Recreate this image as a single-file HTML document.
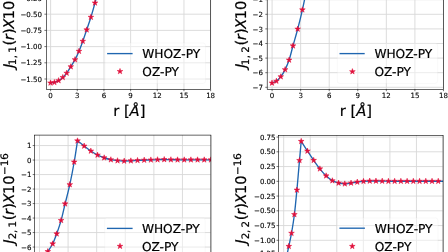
<!DOCTYPE html>
<html><head><meta charset="utf-8"><title>plot</title>
<style>html,body{margin:0;padding:0;background:#fff}svg{display:block}text{font-family:"DejaVu Sans","Liberation Sans",sans-serif;fill:#000;stroke:#000;stroke-width:0.2px;text-rendering:geometricPrecision}.t text{stroke-width:0.12px}</style>
</head><body>
<svg width="448" height="252" viewBox="0 0 448 252">
<rect width="448" height="252" fill="#fff"/>
<clipPath id="cA"><rect x="46.3" y="-40.5" width="164.3" height="129.8"/></clipPath>
<path d="M50.60,-40.5V89.3M77.27,-40.5V89.3M103.94,-40.5V89.3M130.61,-40.5V89.3M157.28,-40.5V89.3M183.95,-40.5V89.3M210.62,-40.5V89.3M46.3,-2.00H210.6M46.3,14.20H210.6M46.3,30.40H210.6M46.3,46.60H210.6M46.3,62.80H210.6M46.3,79.00H210.6" stroke="#d8d8d8" stroke-width="0.9" fill="none"/>
<g clip-path="url(#cA)"><path d="M50.50,82.90C51.15,82.82 53.05,82.78 54.40,82.40C55.75,82.02 57.20,81.43 58.60,80.60C60.00,79.77 61.45,78.65 62.80,77.40C64.15,76.15 65.37,74.88 66.70,73.10C68.03,71.32 69.42,68.95 70.80,66.70C72.18,64.45 73.63,62.18 75.00,59.60C76.37,57.02 77.70,54.27 79.00,51.20C80.30,48.13 81.52,44.77 82.80,41.20C84.08,37.63 85.35,33.80 86.70,29.80C88.05,25.80 89.52,21.68 90.90,17.20C92.28,12.72 93.72,7.77 95.00,2.90C96.28,-1.97 98.00,-9.52 98.60,-12.00" stroke="#1f66b0" stroke-width="1.35" fill="none" stroke-linejoin="round"/>
<g fill="#e00f3a" stroke="#e00f3a" stroke-width="0.5" stroke-linejoin="miter"><polygon points="50.50,79.90 51.17,81.97 53.35,81.97 51.59,83.25 52.26,85.33 50.50,84.05 48.74,85.33 49.41,83.25 47.65,81.97 49.83,81.97"/><polygon points="54.40,79.40 55.07,81.47 57.25,81.47 55.49,82.75 56.16,84.83 54.40,83.55 52.64,84.83 53.31,82.75 51.55,81.47 53.73,81.47"/><polygon points="58.60,77.60 59.27,79.67 61.45,79.67 59.69,80.95 60.36,83.03 58.60,81.75 56.84,83.03 57.51,80.95 55.75,79.67 57.93,79.67"/><polygon points="62.80,74.40 63.47,76.47 65.65,76.47 63.89,77.75 64.56,79.83 62.80,78.55 61.04,79.83 61.71,77.75 59.95,76.47 62.13,76.47"/><polygon points="66.70,70.10 67.37,72.17 69.55,72.17 67.79,73.45 68.46,75.53 66.70,74.25 64.94,75.53 65.61,73.45 63.85,72.17 66.03,72.17"/><polygon points="70.80,63.70 71.47,65.77 73.65,65.77 71.89,67.05 72.56,69.13 70.80,67.85 69.04,69.13 69.71,67.05 67.95,65.77 70.13,65.77"/><polygon points="75.00,56.60 75.67,58.67 77.85,58.67 76.09,59.95 76.76,62.03 75.00,60.75 73.24,62.03 73.91,59.95 72.15,58.67 74.33,58.67"/><polygon points="79.00,48.20 79.67,50.27 81.85,50.27 80.09,51.55 80.76,53.63 79.00,52.35 77.24,53.63 77.91,51.55 76.15,50.27 78.33,50.27"/><polygon points="82.80,38.20 83.47,40.27 85.65,40.27 83.89,41.55 84.56,43.63 82.80,42.35 81.04,43.63 81.71,41.55 79.95,40.27 82.13,40.27"/><polygon points="86.70,26.80 87.37,28.87 89.55,28.87 87.79,30.15 88.46,32.23 86.70,30.95 84.94,32.23 85.61,30.15 83.85,28.87 86.03,28.87"/><polygon points="90.90,14.20 91.57,16.27 93.75,16.27 91.99,17.55 92.66,19.63 90.90,18.35 89.14,19.63 89.81,17.55 88.05,16.27 90.23,16.27"/><polygon points="95.00,-0.10 95.67,1.97 97.85,1.97 96.09,3.25 96.76,5.33 95.00,4.05 93.24,5.33 93.91,3.25 92.15,1.97 94.33,1.97"/><polygon points="98.60,-15.00 99.27,-12.93 101.45,-12.93 99.69,-11.65 100.36,-9.57 98.60,-10.85 96.84,-9.57 97.51,-11.65 95.75,-12.93 97.93,-12.93"/></g></g>
<rect x="46.3" y="-40.5" width="164.3" height="129.8" fill="none" stroke="#000" stroke-width="0.6"/>
<path d="M50.60,89.3v1.9M77.27,89.3v1.9M103.94,89.3v1.9M130.61,89.3v1.9M157.28,89.3v1.9M183.95,89.3v1.9M210.62,89.3v1.9M46.3,-2.00h-1.9M46.3,14.20h-1.9M46.3,30.40h-1.9M46.3,46.60h-1.9M46.3,62.80h-1.9M46.3,79.00h-1.9" stroke="#000" stroke-width="0.55" fill="none"/>
<g class="t" font-size="7.05">
<text x="50.60" y="98.40" text-anchor="middle">0</text>
<text x="77.27" y="98.40" text-anchor="middle">3</text>
<text x="103.94" y="98.40" text-anchor="middle">6</text>
<text x="130.61" y="98.40" text-anchor="middle">9</text>
<text x="157.28" y="98.40" text-anchor="middle">12</text>
<text x="183.95" y="98.40" text-anchor="middle">15</text>
<text x="210.62" y="98.40" text-anchor="middle">18</text>
<text x="42.00" y="0.65" text-anchor="end">−0.25</text>
<text x="42.00" y="16.85" text-anchor="end">−0.50</text>
<text x="42.00" y="33.05" text-anchor="end">−0.75</text>
<text x="42.00" y="49.25" text-anchor="end">−1.00</text>
<text x="42.00" y="65.45" text-anchor="end">−1.25</text>
<text x="42.00" y="81.65" text-anchor="end">−1.50</text>
</g>
<rect x="104.90" y="43.00" width="100.60" height="40.40" rx="2.4" fill="#fff" fill-opacity="0.45" stroke="#ddd" stroke-opacity="0.35" stroke-width="0.5"/>
<path d="M107.1,53.6H132.6" stroke="#1f66b0" stroke-width="1.35"/>
<g fill="#e00f3a" stroke="#e00f3a" stroke-width="0.5"><polygon points="120.00,68.40 120.67,70.47 122.85,70.47 121.09,71.75 121.76,73.83 120.00,72.55 118.24,73.83 118.91,71.75 117.15,70.47 119.33,70.47"/></g>
<text x="142.3" y="57.8" font-size="12.2">WHOZ-PY</text>
<text x="142.3" y="76.1" font-size="12.2">OZ-PY</text>
<text transform="translate(13.6,67.9) rotate(-90)" font-size="14.7"><tspan font-style="oblique" dx="0" dy="0">J</tspan><tspan font-size="10.29" dx="-1.65" dy="2.6">1</tspan><tspan font-size="10.29" dx="0.45" dy="0">,</tspan><tspan font-size="10.29" dx="2.15" dy="0">1</tspan><tspan  dx="0.75" dy="-2.6">(</tspan><tspan font-style="oblique" dx="-0.5" dy="0">r</tspan><tspan  dx="0.1" dy="0">)</tspan><tspan font-style="oblique" dx="-0.5" dy="0">X</tspan><tspan  dx="-0.4" dy="0">1</tspan><tspan  dx="-0.2" dy="0">0</tspan><tspan font-size="10.29" dx="0.5" dy="-5.4">−</tspan><tspan font-size="10.29" dx="0" dy="0">1</tspan><tspan font-size="10.29" dx="0" dy="0">6</tspan></text>
<text x="129.3" y="115.7" font-size="14.7" text-anchor="middle">r [<tspan font-style="oblique">Å</tspan>]</text>
<clipPath id="cB"><rect x="267.2" y="-40.5" width="176.2" height="129.8"/></clipPath>
<path d="M272.10,-40.5V89.3M300.66,-40.5V89.3M329.22,-40.5V89.3M357.78,-40.5V89.3M386.34,-40.5V89.3M414.90,-40.5V89.3M443.46,-40.5V89.3M267.2,-0.30H443.4M267.2,14.30H443.4M267.2,28.90H443.4M267.2,43.50H443.4M267.2,58.10H443.4M267.2,72.70H443.4M267.2,87.30H443.4" stroke="#d8d8d8" stroke-width="0.9" fill="none"/>
<g clip-path="url(#cB)"><path d="M272.00,83.00C272.73,82.68 274.93,82.15 276.40,81.10C277.87,80.05 279.35,78.62 280.80,76.70C282.25,74.78 283.72,72.38 285.10,69.60C286.48,66.82 287.78,63.97 289.10,60.00C290.42,56.03 291.57,50.97 293.00,45.80C294.43,40.63 296.13,35.00 297.70,29.00C299.27,23.00 300.93,16.30 302.40,9.80C303.87,3.30 305.82,-6.70 306.50,-10.00" stroke="#1f66b0" stroke-width="1.35" fill="none" stroke-linejoin="round"/>
<g fill="#e00f3a" stroke="#e00f3a" stroke-width="0.5" stroke-linejoin="miter"><polygon points="272.00,80.00 272.67,82.07 274.85,82.07 273.09,83.35 273.76,85.43 272.00,84.15 270.24,85.43 270.91,83.35 269.15,82.07 271.33,82.07"/><polygon points="276.40,78.10 277.07,80.17 279.25,80.17 277.49,81.45 278.16,83.53 276.40,82.25 274.64,83.53 275.31,81.45 273.55,80.17 275.73,80.17"/><polygon points="280.80,73.70 281.47,75.77 283.65,75.77 281.89,77.05 282.56,79.13 280.80,77.85 279.04,79.13 279.71,77.05 277.95,75.77 280.13,75.77"/><polygon points="285.10,66.60 285.77,68.67 287.95,68.67 286.19,69.95 286.86,72.03 285.10,70.75 283.34,72.03 284.01,69.95 282.25,68.67 284.43,68.67"/><polygon points="289.10,57.00 289.77,59.07 291.95,59.07 290.19,60.35 290.86,62.43 289.10,61.15 287.34,62.43 288.01,60.35 286.25,59.07 288.43,59.07"/><polygon points="293.00,42.80 293.67,44.87 295.85,44.87 294.09,46.15 294.76,48.23 293.00,46.95 291.24,48.23 291.91,46.15 290.15,44.87 292.33,44.87"/><polygon points="297.70,26.00 298.37,28.07 300.55,28.07 298.79,29.35 299.46,31.43 297.70,30.15 295.94,31.43 296.61,29.35 294.85,28.07 297.03,28.07"/><polygon points="302.40,6.80 303.07,8.87 305.25,8.87 303.49,10.15 304.16,12.23 302.40,10.95 300.64,12.23 301.31,10.15 299.55,8.87 301.73,8.87"/><polygon points="306.50,-13.00 307.17,-10.93 309.35,-10.93 307.59,-9.65 308.26,-7.57 306.50,-8.85 304.74,-7.57 305.41,-9.65 303.65,-10.93 305.83,-10.93"/></g></g>
<rect x="267.2" y="-40.5" width="176.2" height="129.8" fill="none" stroke="#000" stroke-width="0.6"/>
<path d="M272.10,89.3v1.9M300.66,89.3v1.9M329.22,89.3v1.9M357.78,89.3v1.9M386.34,89.3v1.9M414.90,89.3v1.9M443.46,89.3v1.9M267.2,-0.30h-1.9M267.2,14.30h-1.9M267.2,28.90h-1.9M267.2,43.50h-1.9M267.2,58.10h-1.9M267.2,72.70h-1.9M267.2,87.30h-1.9" stroke="#000" stroke-width="0.55" fill="none"/>
<g class="t" font-size="7.05">
<text x="272.10" y="98.40" text-anchor="middle">0</text>
<text x="300.66" y="98.40" text-anchor="middle">3</text>
<text x="329.22" y="98.40" text-anchor="middle">6</text>
<text x="357.78" y="98.40" text-anchor="middle">9</text>
<text x="386.34" y="98.40" text-anchor="middle">12</text>
<text x="414.90" y="98.40" text-anchor="middle">15</text>
<text x="443.46" y="98.40" text-anchor="middle">18</text>
<text x="262.90" y="2.35" text-anchor="end">−1</text>
<text x="262.90" y="16.95" text-anchor="end">−2</text>
<text x="262.90" y="31.55" text-anchor="end">−3</text>
<text x="262.90" y="46.15" text-anchor="end">−4</text>
<text x="262.90" y="60.75" text-anchor="end">−5</text>
<text x="262.90" y="75.35" text-anchor="end">−6</text>
<text x="262.90" y="89.95" text-anchor="end">−7</text>
</g>
<rect x="337.30" y="43.20" width="100.30" height="40.20" rx="2.4" fill="#fff" fill-opacity="0.45" stroke="#ddd" stroke-opacity="0.35" stroke-width="0.5"/>
<path d="M339.5,53.6H364.7" stroke="#1f66b0" stroke-width="1.35"/>
<g fill="#e00f3a" stroke="#e00f3a" stroke-width="0.5"><polygon points="352.40,68.60 353.07,70.67 355.25,70.67 353.49,71.95 354.16,74.03 352.40,72.75 350.64,74.03 351.31,71.95 349.55,70.67 351.73,70.67"/></g>
<text x="374.4" y="58.0" font-size="12.2">WHOZ-PY</text>
<text x="374.4" y="76.1" font-size="12.2">OZ-PY</text>
<text transform="translate(246.3,67.9) rotate(-90)" font-size="14.7"><tspan font-style="oblique" dx="0" dy="0">J</tspan><tspan font-size="10.29" dx="-1.65" dy="2.6">1</tspan><tspan font-size="10.29" dx="0.45" dy="0">,</tspan><tspan font-size="10.29" dx="2.15" dy="0">2</tspan><tspan  dx="0.75" dy="-2.6">(</tspan><tspan font-style="oblique" dx="-0.5" dy="0">r</tspan><tspan  dx="0.1" dy="0">)</tspan><tspan font-style="oblique" dx="-0.5" dy="0">X</tspan><tspan  dx="-0.4" dy="0">1</tspan><tspan  dx="-0.2" dy="0">0</tspan><tspan font-size="10.29" dx="0.5" dy="-5.4">−</tspan><tspan font-size="10.29" dx="0" dy="0">1</tspan><tspan font-size="10.29" dx="0" dy="0">6</tspan></text>
<text x="355.9" y="115.7" font-size="14.7" text-anchor="middle">r [<tspan font-style="oblique">Å</tspan>]</text>
<clipPath id="cC"><rect x="34.6" y="135.1" width="176.3" height="129.4"/></clipPath>
<path d="M39.50,135.1V264.5M68.09,135.1V264.5M96.68,135.1V264.5M125.27,135.1V264.5M153.86,135.1V264.5M182.45,135.1V264.5M211.04,135.1V264.5M34.6,145.55H210.9M34.6,160.05H210.9M34.6,174.55H210.9M34.6,189.05H210.9M34.6,203.55H210.9M34.6,218.05H210.9M34.6,232.55H210.9M34.6,247.05H210.9M34.6,261.55H210.9" stroke="#d8d8d8" stroke-width="0.9" fill="none"/>
<g clip-path="url(#cC)"><path d="M43.50,258.00C44.22,256.92 46.27,253.87 47.80,251.50C49.33,249.13 51.22,246.75 52.70,243.80C54.18,240.85 55.30,237.70 56.70,233.80C58.10,229.90 59.70,225.40 61.10,220.40C62.50,215.40 63.65,209.77 65.10,203.80C66.55,197.83 68.28,191.57 69.80,184.60C71.32,177.63 72.92,169.30 74.20,162.00C75.48,154.70 76.95,144.33 77.50,140.80L77.50,140.80C78.61,141.67 81.95,144.30 84.17,146.00C86.39,147.70 88.62,149.50 90.84,151.00C93.06,152.50 95.29,153.88 97.51,155.00C99.73,156.12 101.96,156.97 104.18,157.75C106.40,158.53 108.63,159.21 110.85,159.70C113.07,160.19 115.30,160.48 117.52,160.70C119.74,160.92 121.97,160.98 124.19,161.00C126.41,161.02 128.64,160.90 130.86,160.80C133.08,160.70 135.31,160.52 137.53,160.40C139.75,160.28 141.98,160.18 144.20,160.10C146.42,160.02 148.65,159.97 150.87,159.90C153.09,159.83 155.32,159.77 157.54,159.70C159.76,159.63 161.99,159.50 164.21,159.50C166.43,159.50 168.66,159.65 170.88,159.70C173.10,159.75 175.33,159.78 177.55,159.80C179.77,159.82 182.00,159.80 184.22,159.80C186.44,159.80 188.67,159.80 190.89,159.80C193.11,159.80 195.34,159.80 197.56,159.80C199.78,159.80 202.01,159.80 204.23,159.80C206.45,159.80 209.79,159.80 210.90,159.80" stroke="#1f66b0" stroke-width="1.35" fill="none" stroke-linejoin="round"/>
<g fill="#e00f3a" stroke="#e00f3a" stroke-width="0.5" stroke-linejoin="miter"><polygon points="43.50,255.00 44.17,257.07 46.35,257.07 44.59,258.35 45.26,260.43 43.50,259.15 41.74,260.43 42.41,258.35 40.65,257.07 42.83,257.07"/><polygon points="47.80,248.50 48.47,250.57 50.65,250.57 48.89,251.85 49.56,253.93 47.80,252.65 46.04,253.93 46.71,251.85 44.95,250.57 47.13,250.57"/><polygon points="52.70,240.80 53.37,242.87 55.55,242.87 53.79,244.15 54.46,246.23 52.70,244.95 50.94,246.23 51.61,244.15 49.85,242.87 52.03,242.87"/><polygon points="56.70,230.80 57.37,232.87 59.55,232.87 57.79,234.15 58.46,236.23 56.70,234.95 54.94,236.23 55.61,234.15 53.85,232.87 56.03,232.87"/><polygon points="61.10,217.40 61.77,219.47 63.95,219.47 62.19,220.75 62.86,222.83 61.10,221.55 59.34,222.83 60.01,220.75 58.25,219.47 60.43,219.47"/><polygon points="65.10,200.80 65.77,202.87 67.95,202.87 66.19,204.15 66.86,206.23 65.10,204.95 63.34,206.23 64.01,204.15 62.25,202.87 64.43,202.87"/><polygon points="69.80,181.60 70.47,183.67 72.65,183.67 70.89,184.95 71.56,187.03 69.80,185.75 68.04,187.03 68.71,184.95 66.95,183.67 69.13,183.67"/><polygon points="74.20,159.00 74.87,161.07 77.05,161.07 75.29,162.35 75.96,164.43 74.20,163.15 72.44,164.43 73.11,162.35 71.35,161.07 73.53,161.07"/><polygon points="77.50,137.80 78.17,139.87 80.35,139.87 78.59,141.15 79.26,143.23 77.50,141.95 75.74,143.23 76.41,141.15 74.65,139.87 76.83,139.87"/><polygon points="84.17,143.00 84.84,145.07 87.02,145.07 85.26,146.35 85.93,148.43 84.17,147.15 82.41,148.43 83.08,146.35 81.32,145.07 83.50,145.07"/><polygon points="90.84,148.00 91.51,150.07 93.69,150.07 91.93,151.35 92.60,153.43 90.84,152.15 89.08,153.43 89.75,151.35 87.99,150.07 90.17,150.07"/><polygon points="97.51,152.00 98.18,154.07 100.36,154.07 98.60,155.35 99.27,157.43 97.51,156.15 95.75,157.43 96.42,155.35 94.66,154.07 96.84,154.07"/><polygon points="104.18,154.75 104.85,156.82 107.03,156.82 105.27,158.10 105.94,160.18 104.18,158.90 102.42,160.18 103.09,158.10 101.33,156.82 103.51,156.82"/><polygon points="110.85,156.70 111.52,158.77 113.70,158.77 111.94,160.05 112.61,162.13 110.85,160.85 109.09,162.13 109.76,160.05 108.00,158.77 110.18,158.77"/><polygon points="117.52,157.70 118.19,159.77 120.37,159.77 118.61,161.05 119.28,163.13 117.52,161.85 115.76,163.13 116.43,161.05 114.67,159.77 116.85,159.77"/><polygon points="124.19,158.00 124.86,160.07 127.04,160.07 125.28,161.35 125.95,163.43 124.19,162.15 122.43,163.43 123.10,161.35 121.34,160.07 123.52,160.07"/><polygon points="130.86,157.80 131.53,159.87 133.71,159.87 131.95,161.15 132.62,163.23 130.86,161.95 129.10,163.23 129.77,161.15 128.01,159.87 130.19,159.87"/><polygon points="137.53,157.40 138.20,159.47 140.38,159.47 138.62,160.75 139.29,162.83 137.53,161.55 135.77,162.83 136.44,160.75 134.68,159.47 136.86,159.47"/><polygon points="144.20,157.10 144.87,159.17 147.05,159.17 145.29,160.45 145.96,162.53 144.20,161.25 142.44,162.53 143.11,160.45 141.35,159.17 143.53,159.17"/><polygon points="150.87,156.90 151.54,158.97 153.72,158.97 151.96,160.25 152.63,162.33 150.87,161.05 149.11,162.33 149.78,160.25 148.02,158.97 150.20,158.97"/><polygon points="157.54,156.70 158.21,158.77 160.39,158.77 158.63,160.05 159.30,162.13 157.54,160.85 155.78,162.13 156.45,160.05 154.69,158.77 156.87,158.77"/><polygon points="164.21,156.50 164.88,158.57 167.06,158.57 165.30,159.85 165.97,161.93 164.21,160.65 162.45,161.93 163.12,159.85 161.36,158.57 163.54,158.57"/><polygon points="170.88,156.70 171.55,158.77 173.73,158.77 171.97,160.05 172.64,162.13 170.88,160.85 169.12,162.13 169.79,160.05 168.03,158.77 170.21,158.77"/><polygon points="177.55,156.80 178.22,158.87 180.40,158.87 178.64,160.15 179.31,162.23 177.55,160.95 175.79,162.23 176.46,160.15 174.70,158.87 176.88,158.87"/><polygon points="184.22,156.80 184.89,158.87 187.07,158.87 185.31,160.15 185.98,162.23 184.22,160.95 182.46,162.23 183.13,160.15 181.37,158.87 183.55,158.87"/><polygon points="190.89,156.80 191.56,158.87 193.74,158.87 191.98,160.15 192.65,162.23 190.89,160.95 189.13,162.23 189.80,160.15 188.04,158.87 190.22,158.87"/><polygon points="197.56,156.80 198.23,158.87 200.41,158.87 198.65,160.15 199.32,162.23 197.56,160.95 195.80,162.23 196.47,160.15 194.71,158.87 196.89,158.87"/><polygon points="204.23,156.80 204.90,158.87 207.08,158.87 205.32,160.15 205.99,162.23 204.23,160.95 202.47,162.23 203.14,160.15 201.38,158.87 203.56,158.87"/><polygon points="210.90,156.80 211.57,158.87 213.75,158.87 211.99,160.15 212.66,162.23 210.90,160.95 209.14,162.23 209.81,160.15 208.05,158.87 210.23,158.87"/></g></g>
<rect x="34.6" y="135.1" width="176.3" height="129.4" fill="none" stroke="#000" stroke-width="0.6"/>
<path d="M39.50,264.5v1.9M68.09,264.5v1.9M96.68,264.5v1.9M125.27,264.5v1.9M153.86,264.5v1.9M182.45,264.5v1.9M211.04,264.5v1.9M34.6,145.55h-1.9M34.6,160.05h-1.9M34.6,174.55h-1.9M34.6,189.05h-1.9M34.6,203.55h-1.9M34.6,218.05h-1.9M34.6,232.55h-1.9M34.6,247.05h-1.9M34.6,261.55h-1.9" stroke="#000" stroke-width="0.55" fill="none"/>
<g class="t" font-size="7.05">
<text x="39.50" y="273.60" text-anchor="middle">0</text>
<text x="68.09" y="273.60" text-anchor="middle">3</text>
<text x="96.68" y="273.60" text-anchor="middle">6</text>
<text x="125.27" y="273.60" text-anchor="middle">9</text>
<text x="153.86" y="273.60" text-anchor="middle">12</text>
<text x="182.45" y="273.60" text-anchor="middle">15</text>
<text x="211.04" y="273.60" text-anchor="middle">18</text>
<text x="31.50" y="148.20" text-anchor="end">1</text>
<text x="31.50" y="162.70" text-anchor="end">0</text>
<text x="31.50" y="177.20" text-anchor="end">−1</text>
<text x="31.50" y="191.70" text-anchor="end">−2</text>
<text x="31.50" y="206.20" text-anchor="end">−3</text>
<text x="31.50" y="220.70" text-anchor="end">−4</text>
<text x="31.50" y="235.20" text-anchor="end">−5</text>
<text x="31.50" y="249.70" text-anchor="end">−6</text>
<text x="31.50" y="264.20" text-anchor="end">−7</text>
</g>
<rect x="104.70" y="217.80" width="100.40" height="40.20" rx="2.4" fill="#fff" fill-opacity="0.45" stroke="#ddd" stroke-opacity="0.35" stroke-width="0.5"/>
<path d="M106.9,228.4H132.6" stroke="#1f66b0" stroke-width="1.35"/>
<g fill="#e00f3a" stroke="#e00f3a" stroke-width="0.5"><polygon points="120.00,243.20 120.67,245.27 122.85,245.27 121.09,246.55 121.76,248.63 120.00,247.35 118.24,248.63 118.91,246.55 117.15,245.27 119.33,245.27"/></g>
<text x="141.9" y="232.6" font-size="12.2">WHOZ-PY</text>
<text x="141.9" y="250.7" font-size="12.2">OZ-PY</text>
<text transform="translate(13.6,243.79999999999998) rotate(-90)" font-size="14.7"><tspan font-style="oblique" dx="0" dy="0">J</tspan><tspan font-size="10.29" dx="0.15000000000000013" dy="2.6">2</tspan><tspan font-size="10.29" dx="-0.14999999999999997" dy="0">,</tspan><tspan font-size="10.29" dx="2.15" dy="0">1</tspan><tspan  dx="0.75" dy="-2.6">(</tspan><tspan font-style="oblique" dx="-0.5" dy="0">r</tspan><tspan  dx="0.1" dy="0">)</tspan><tspan font-style="oblique" dx="-0.5" dy="0">X</tspan><tspan  dx="-0.4" dy="0">1</tspan><tspan  dx="-0.2" dy="0">0</tspan><tspan font-size="10.29" dx="0.5" dy="-5.4">−</tspan><tspan font-size="10.29" dx="0" dy="0">1</tspan><tspan font-size="10.29" dx="0" dy="0">6</tspan></text>
<clipPath id="cD"><rect x="278.4" y="135.3" width="164.70000000000005" height="129.2"/></clipPath>
<path d="M283.70,135.3V264.5M310.25,135.3V264.5M336.80,135.3V264.5M363.35,135.3V264.5M389.90,135.3V264.5M416.45,135.3V264.5M443.00,135.3V264.5M278.4,137.05H443.1M278.4,151.80H443.1M278.4,166.55H443.1M278.4,181.30H443.1M278.4,196.05H443.1M278.4,210.80H443.1M278.4,225.55H443.1M278.4,240.30H443.1M278.4,255.05H443.1" stroke="#d8d8d8" stroke-width="0.9" fill="none"/>
<g clip-path="url(#cD)"><path d="M286.60,256.50C286.97,254.80 287.98,250.18 288.80,246.30C289.62,242.42 290.57,238.50 291.50,233.20C292.43,227.90 293.50,221.70 294.40,214.50C295.30,207.30 296.05,199.02 296.90,190.00C297.75,180.98 298.78,168.52 299.50,160.40C300.22,152.28 300.92,144.48 301.20,141.30L301.20,141.30C302.24,142.92 305.35,147.83 307.43,151.00C309.51,154.17 311.58,157.33 313.66,160.30C315.74,163.27 317.81,166.22 319.89,168.80C321.97,171.38 324.04,173.82 326.12,175.80C328.20,177.78 330.27,179.50 332.35,180.70C334.43,181.90 336.50,182.48 338.58,183.00C340.66,183.52 342.73,183.80 344.81,183.80C346.89,183.80 348.96,183.30 351.04,183.00C353.12,182.70 355.19,182.28 357.27,182.00C359.35,181.72 361.42,181.47 363.50,181.30C365.58,181.13 367.65,181.05 369.73,181.00C371.81,180.95 373.88,180.98 375.96,181.00C378.04,181.02 380.11,181.07 382.19,181.10C384.27,181.13 386.34,181.18 388.42,181.20C390.50,181.22 392.57,181.20 394.65,181.20C396.73,181.20 398.80,181.20 400.88,181.20C402.96,181.20 405.03,181.20 407.11,181.20C409.19,181.20 411.26,181.20 413.34,181.20C415.42,181.20 417.49,181.20 419.57,181.20C421.65,181.20 423.72,181.20 425.80,181.20C427.88,181.20 429.95,181.20 432.03,181.20C434.11,181.20 436.41,181.20 438.26,181.20C440.11,181.20 442.29,181.20 443.10,181.20" stroke="#1f66b0" stroke-width="1.35" fill="none" stroke-linejoin="round"/>
<g fill="#e00f3a" stroke="#e00f3a" stroke-width="0.5" stroke-linejoin="miter"><polygon points="286.60,253.50 287.27,255.57 289.45,255.57 287.69,256.85 288.36,258.93 286.60,257.65 284.84,258.93 285.51,256.85 283.75,255.57 285.93,255.57"/><polygon points="288.80,243.30 289.47,245.37 291.65,245.37 289.89,246.65 290.56,248.73 288.80,247.45 287.04,248.73 287.71,246.65 285.95,245.37 288.13,245.37"/><polygon points="291.50,230.20 292.17,232.27 294.35,232.27 292.59,233.55 293.26,235.63 291.50,234.35 289.74,235.63 290.41,233.55 288.65,232.27 290.83,232.27"/><polygon points="294.40,211.50 295.07,213.57 297.25,213.57 295.49,214.85 296.16,216.93 294.40,215.65 292.64,216.93 293.31,214.85 291.55,213.57 293.73,213.57"/><polygon points="296.90,187.00 297.57,189.07 299.75,189.07 297.99,190.35 298.66,192.43 296.90,191.15 295.14,192.43 295.81,190.35 294.05,189.07 296.23,189.07"/><polygon points="299.50,157.40 300.17,159.47 302.35,159.47 300.59,160.75 301.26,162.83 299.50,161.55 297.74,162.83 298.41,160.75 296.65,159.47 298.83,159.47"/><polygon points="301.20,138.30 301.87,140.37 304.05,140.37 302.29,141.65 302.96,143.73 301.20,142.45 299.44,143.73 300.11,141.65 298.35,140.37 300.53,140.37"/><polygon points="307.43,148.00 308.10,150.07 310.28,150.07 308.52,151.35 309.19,153.43 307.43,152.15 305.67,153.43 306.34,151.35 304.58,150.07 306.76,150.07"/><polygon points="313.66,157.30 314.33,159.37 316.51,159.37 314.75,160.65 315.42,162.73 313.66,161.45 311.90,162.73 312.57,160.65 310.81,159.37 312.99,159.37"/><polygon points="319.89,165.80 320.56,167.87 322.74,167.87 320.98,169.15 321.65,171.23 319.89,169.95 318.13,171.23 318.80,169.15 317.04,167.87 319.22,167.87"/><polygon points="326.12,172.80 326.79,174.87 328.97,174.87 327.21,176.15 327.88,178.23 326.12,176.95 324.36,178.23 325.03,176.15 323.27,174.87 325.45,174.87"/><polygon points="332.35,177.70 333.02,179.77 335.20,179.77 333.44,181.05 334.11,183.13 332.35,181.85 330.59,183.13 331.26,181.05 329.50,179.77 331.68,179.77"/><polygon points="338.58,180.00 339.25,182.07 341.43,182.07 339.67,183.35 340.34,185.43 338.58,184.15 336.82,185.43 337.49,183.35 335.73,182.07 337.91,182.07"/><polygon points="344.81,180.80 345.48,182.87 347.66,182.87 345.90,184.15 346.57,186.23 344.81,184.95 343.05,186.23 343.72,184.15 341.96,182.87 344.14,182.87"/><polygon points="351.04,180.00 351.71,182.07 353.89,182.07 352.13,183.35 352.80,185.43 351.04,184.15 349.28,185.43 349.95,183.35 348.19,182.07 350.37,182.07"/><polygon points="357.27,179.00 357.94,181.07 360.12,181.07 358.36,182.35 359.03,184.43 357.27,183.15 355.51,184.43 356.18,182.35 354.42,181.07 356.60,181.07"/><polygon points="363.50,178.30 364.17,180.37 366.35,180.37 364.59,181.65 365.26,183.73 363.50,182.45 361.74,183.73 362.41,181.65 360.65,180.37 362.83,180.37"/><polygon points="369.73,178.00 370.40,180.07 372.58,180.07 370.82,181.35 371.49,183.43 369.73,182.15 367.97,183.43 368.64,181.35 366.88,180.07 369.06,180.07"/><polygon points="375.96,178.00 376.63,180.07 378.81,180.07 377.05,181.35 377.72,183.43 375.96,182.15 374.20,183.43 374.87,181.35 373.11,180.07 375.29,180.07"/><polygon points="382.19,178.10 382.86,180.17 385.04,180.17 383.28,181.45 383.95,183.53 382.19,182.25 380.43,183.53 381.10,181.45 379.34,180.17 381.52,180.17"/><polygon points="388.42,178.20 389.09,180.27 391.27,180.27 389.51,181.55 390.18,183.63 388.42,182.35 386.66,183.63 387.33,181.55 385.57,180.27 387.75,180.27"/><polygon points="394.65,178.20 395.32,180.27 397.50,180.27 395.74,181.55 396.41,183.63 394.65,182.35 392.89,183.63 393.56,181.55 391.80,180.27 393.98,180.27"/><polygon points="400.88,178.20 401.55,180.27 403.73,180.27 401.97,181.55 402.64,183.63 400.88,182.35 399.12,183.63 399.79,181.55 398.03,180.27 400.21,180.27"/><polygon points="407.11,178.20 407.78,180.27 409.96,180.27 408.20,181.55 408.87,183.63 407.11,182.35 405.35,183.63 406.02,181.55 404.26,180.27 406.44,180.27"/><polygon points="413.34,178.20 414.01,180.27 416.19,180.27 414.43,181.55 415.10,183.63 413.34,182.35 411.58,183.63 412.25,181.55 410.49,180.27 412.67,180.27"/><polygon points="419.57,178.20 420.24,180.27 422.42,180.27 420.66,181.55 421.33,183.63 419.57,182.35 417.81,183.63 418.48,181.55 416.72,180.27 418.90,180.27"/><polygon points="425.80,178.20 426.47,180.27 428.65,180.27 426.89,181.55 427.56,183.63 425.80,182.35 424.04,183.63 424.71,181.55 422.95,180.27 425.13,180.27"/><polygon points="432.03,178.20 432.70,180.27 434.88,180.27 433.12,181.55 433.79,183.63 432.03,182.35 430.27,183.63 430.94,181.55 429.18,180.27 431.36,180.27"/><polygon points="438.26,178.20 438.93,180.27 441.11,180.27 439.35,181.55 440.02,183.63 438.26,182.35 436.50,183.63 437.17,181.55 435.41,180.27 437.59,180.27"/></g></g>
<rect x="278.4" y="135.3" width="164.70000000000005" height="129.2" fill="none" stroke="#000" stroke-width="0.6"/>
<path d="M283.70,264.5v1.9M310.25,264.5v1.9M336.80,264.5v1.9M363.35,264.5v1.9M389.90,264.5v1.9M416.45,264.5v1.9M443.00,264.5v1.9M278.4,137.05h-1.9M278.4,151.80h-1.9M278.4,166.55h-1.9M278.4,181.30h-1.9M278.4,196.05h-1.9M278.4,210.80h-1.9M278.4,225.55h-1.9M278.4,240.30h-1.9M278.4,255.05h-1.9" stroke="#000" stroke-width="0.55" fill="none"/>
<g class="t" font-size="7.05">
<text x="283.70" y="273.60" text-anchor="middle">0</text>
<text x="310.25" y="273.60" text-anchor="middle">3</text>
<text x="336.80" y="273.60" text-anchor="middle">6</text>
<text x="363.35" y="273.60" text-anchor="middle">9</text>
<text x="389.90" y="273.60" text-anchor="middle">12</text>
<text x="416.45" y="273.60" text-anchor="middle">15</text>
<text x="443.00" y="273.60" text-anchor="middle">18</text>
<text x="275.60" y="139.70" text-anchor="end">0.75</text>
<text x="275.60" y="154.45" text-anchor="end">0.50</text>
<text x="275.60" y="169.20" text-anchor="end">0.25</text>
<text x="275.60" y="183.95" text-anchor="end">0.00</text>
<text x="275.60" y="198.70" text-anchor="end">−0.25</text>
<text x="275.60" y="213.45" text-anchor="end">−0.50</text>
<text x="275.60" y="228.20" text-anchor="end">−0.75</text>
<text x="275.60" y="242.95" text-anchor="end">−1.00</text>
<text x="275.60" y="255.90" text-anchor="end">−1.25</text>
</g>
<rect x="337.20" y="217.90" width="100.70" height="40.10" rx="2.4" fill="#fff" fill-opacity="0.45" stroke="#ddd" stroke-opacity="0.35" stroke-width="0.5"/>
<path d="M339.4,228.2H364.9" stroke="#1f66b0" stroke-width="1.35"/>
<g fill="#e00f3a" stroke="#e00f3a" stroke-width="0.5"><polygon points="352.30,243.30 352.97,245.37 355.15,245.37 353.39,246.65 354.06,248.73 352.30,247.45 350.54,248.73 351.21,246.65 349.45,245.37 351.63,245.37"/></g>
<text x="374.7" y="232.7" font-size="12.2">WHOZ-PY</text>
<text x="374.7" y="250.7" font-size="12.2">OZ-PY</text>
<text transform="translate(246.2,243.79999999999998) rotate(-90)" font-size="14.7"><tspan font-style="oblique" dx="0" dy="0">J</tspan><tspan font-size="10.29" dx="0.15000000000000013" dy="2.6">2</tspan><tspan font-size="10.29" dx="-0.14999999999999997" dy="0">,</tspan><tspan font-size="10.29" dx="2.15" dy="0">2</tspan><tspan  dx="0.75" dy="-2.6">(</tspan><tspan font-style="oblique" dx="-0.5" dy="0">r</tspan><tspan  dx="0.1" dy="0">)</tspan><tspan font-style="oblique" dx="-0.5" dy="0">X</tspan><tspan  dx="-0.4" dy="0">1</tspan><tspan  dx="-0.2" dy="0">0</tspan><tspan font-size="10.29" dx="0.5" dy="-5.4">−</tspan><tspan font-size="10.29" dx="0" dy="0">1</tspan><tspan font-size="10.29" dx="0" dy="0">6</tspan></text>
</svg>
</body></html>
